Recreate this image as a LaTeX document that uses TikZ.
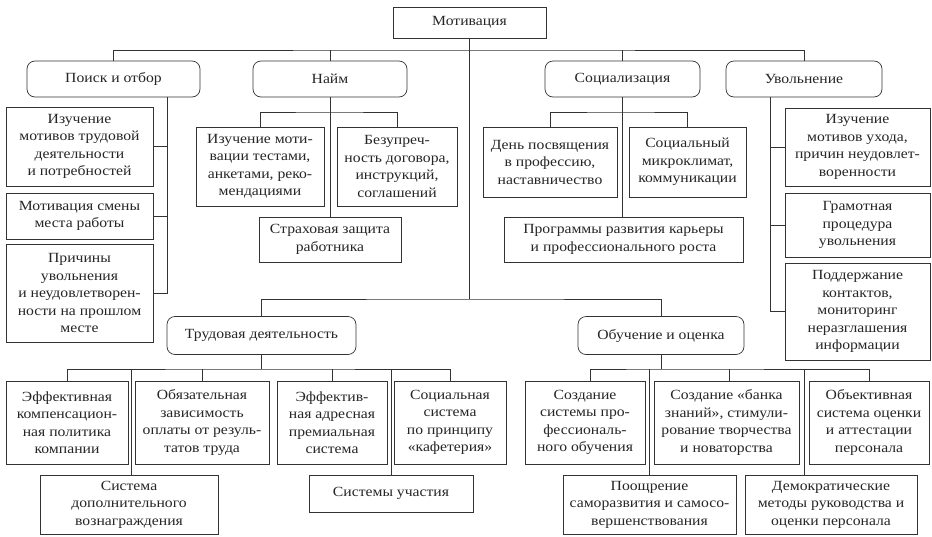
\documentclass[tikz,border=0pt]{standalone}
\usepackage{fontspec}
\setmainfont{Liberation Serif}[FakeStretch=1.12]
\begin{document}
\begin{tikzpicture}[x=1pt,y=-1pt,line width=0.7pt,draw=black!80,
  every node/.style={font=\fontsize{14}{17.5}\selectfont,text=black!85},
  box/.style={draw=black!80,rectangle,align=center,inner sep=0pt},
  head/.style={box,rounded corners=8pt}]
  \useasboundingbox[fill=white] (0,0) rectangle (932,536);

  % top level
  \node[box,minimum width=153pt,minimum height=31pt] (mot) at (469.5,22.5) {Мотивация};
  \node[head,minimum width=173pt,minimum height=36pt] (poisk) at (113.5,79) {Поиск и отбор};
  \node[head,minimum width=154pt,minimum height=36pt] (naim) at (330,79) {Найм};
  \node[head,minimum width=155pt,minimum height=36pt] (soc) at (622.5,79) {Социализация};
  \node[head,minimum width=156pt,minimum height=36pt] (uvol) at (804,79) {Увольнение};

  % search and selection
  \node[box,minimum width=147pt,minimum height=79pt] (p1) at (79.5,146.5)
    {Изучение\\мотивов трудовой\\деятельности\\и потребностей};
  \node[box,minimum width=147pt,minimum height=46pt] (p2) at (79.5,216)
    {Мотивация смены\\места работы};
  \node[box,minimum width=147pt,minimum height=98pt] (p3) at (79.5,293)
    {Причины\\увольнения\\и неудовлетворен-\\ности на прошлом\\месте};

  % hiring
  \node[box,minimum width=128pt,minimum height=79pt] (n1) at (260,166.5)
    {Изучение моти-\\вации тестами,\\анкетами, реко-\\мендациями};
  \node[box,minimum width=120pt,minimum height=79pt] (n2) at (397,166.5)
    {Безупреч-\\ность договора,\\инструкций,\\соглашений};
  \node[box,minimum width=142pt,minimum height=45pt] (n3) at (330,239.5)
    {Страховая защита\\работника};

  % socialization
  \node[box,minimum width=134pt,minimum height=70pt] (s1) at (550,162)
    {День посвящения\\в профессию,\\наставничество};
  \node[box,minimum width=117pt,minimum height=70pt] (s2) at (687.5,162)
    {Социальный\\микроклимат,\\коммуникации};
  \node[box,minimum width=239pt,minimum height=45pt] (s3) at (623.5,239.5)
    {Программы развития карьеры\\и профессионального роста};

  % dismissal
  \node[box,minimum width=145pt,minimum height=78pt] (u1) at (857.5,147)
    {Изучение\\мотивов ухода,\\причин неудовлет-\\воренности};
  \node[box,minimum width=145pt,minimum height=64pt] (u2) at (857.5,225)
    {Грамотная\\процедура\\увольнения};
  \node[box,minimum width=145pt,minimum height=97pt] (u3) at (857.5,311.5)
    {Поддержание\\контактов,\\мониторинг\\неразглашения\\информации};

  % second level
  \node[head,minimum width=189pt,minimum height=38pt] (trud) at (261.5,335.5) {Трудовая деятельность};
  \node[head,minimum width=166pt,minimum height=38pt] (obuch) at (661,335.5) {Обучение и оценка};

  % labour
  \node[box,minimum width=122pt,minimum height=83pt] (t1) at (67,422.5)
    {Эффективная\\компенсацион-\\ная политика\\компании};
  \node[box,minimum width=134pt,minimum height=83pt] (t2) at (202,422.5)
    {Обязательная\\зависимость\\оплаты от резуль-\\татов труда};
  \node[box,minimum width=110pt,minimum height=83pt] (t3) at (332,422.5)
    {Эффектив-\\ная адресная\\премиальная\\система};
  \node[box,minimum width=112pt,minimum height=83pt] (t4) at (450,422.5)
    {Социальная\\система\\по принципу\\«кафетерия»};
  \node[box,minimum width=178pt,minimum height=59pt] (t5) at (129,504.5)
    {Система\\дополнительного\\вознаграждения};
  \node[box,minimum width=164pt,minimum height=37pt] (t6) at (391,493.5)
    {Системы участия};

  % training and assessment
  \node[box,minimum width=120pt,minimum height=83pt] (o1) at (585,422.5)
    {Создание\\системы про-\\фессиональ-\\ного обучения};
  \node[box,minimum width=145pt,minimum height=83pt] (o2) at (726.5,422.5)
    {Создание «банка\\знаний», стимули-\\рование творчества\\и новаторства};
  \node[box,minimum width=120pt,minimum height=83pt] (o3) at (869,422.5)
    {Объективная\\система оценки\\и аттестации\\персонала};
  \node[box,minimum width=173pt,minimum height=59pt] (o4) at (649.5,504.5)
    {Поощрение\\саморазвития и самосо-\\вершенствования};
  \node[box,minimum width=172pt,minimum height=59pt] (o5) at (831,504.5)
    {Демократические\\методы руководства и\\оценки персонала};

  % junctions
  \coordinate (jtop) at (469,50);
  \coordinate (jmid) at (469,299);
  \coordinate (pdrop) at (167,97);
  \coordinate (udrop) at (770,97);
  \coordinate (nj) at (330,112);
  \coordinate (sj) at (622.5,112);
  \coordinate (tj) at (261.5,369);
  \coordinate (oj) at (661,369);

  % connectors
  \draw (poisk.north) |- (jtop) -| (uvol.north);
  \draw (naim.north) -- (naim.north |- jtop);
  \draw (soc.north) -- (soc.north |- jtop);
  \draw (mot.south) -- (mot.south |- jmid);
  \draw (trud.north) |- (jmid) -| (obuch.north);

  \draw (pdrop) |- (p3.east);
  \draw (p1.east) -- (p1.east -| pdrop);
  \draw (p2.east) -- (p2.east -| pdrop);

  \draw (naim.south) -- (n3.north);
  \draw (n1.north) |- (nj) -| (n2.north);

  \draw (soc.south) -- (soc.south |- s3.north);
  \draw (s1.north) |- (sj) -| (s2.north);

  \draw (udrop) |- (u3.west);
  \draw (u1.west) -- (u1.west -| udrop);
  \draw (u2.west) -- (u2.west -| udrop);

  \draw (trud.south) -- (tj);
  \draw (t1.north) |- (tj) -| (t4.north);
  \draw (t2.north) -- (t2.north |- tj);
  \draw (t3.north) -- (t3.north |- tj);
  \draw ([xshift=2.5pt]t5.north) -- ([xshift=2.5pt]t5.north |- tj);
  \draw (t6.north) -- (t6.north |- tj);

  \draw (obuch.south) -- (oj);
  \draw ([xshift=5pt]o1.north) |- (oj) -| (o3.north);
  \draw ([xshift=2.5pt]o2.north) -- ([xshift=2.5pt]o2.north |- oj);
  \draw (o4.north) -- (o4.north |- oj);
  \draw ([xshift=-27pt]o5.north) -- ([xshift=-27pt]o5.north |- oj);
\end{tikzpicture}
\end{document}
